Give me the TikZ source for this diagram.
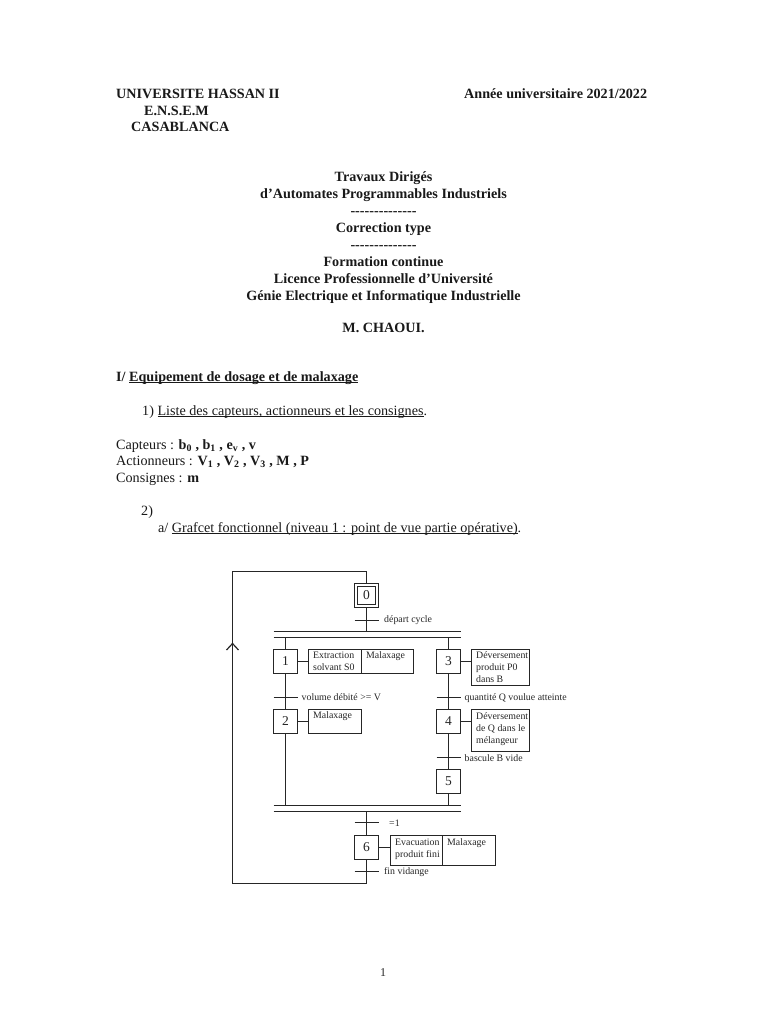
\documentclass[tikz,border=0pt]{standalone}
\usepackage{fontspec}
\setmainfont{Liberation Serif}
\newcommand{\bodyfs}{\fontsize{14.15}{16}\selectfont}
\newcommand{\smallfs}{\fontsize{9.85}{12.1}\selectfont}
\newcommand{\stepfs}{\fontsize{13.5}{15}\selectfont}
\newcommand{\ul}[1]{\setbox0\hbox{#1}\rlap{\copy0}\rule[-2pt]{\wd0}{0.8pt}}
\tikzset{
  txt/.style={anchor=base west,inner sep=0pt,font=\bodyfs,text=black!90},
  ctr/.style={anchor=base,inner sep=0pt,font=\bodyfs\bfseries,text=black!90},
  lnk/.style={line width=1.2pt,draw=black!85},
  stepbox/.style={draw=black!85,line width=1.2pt,outer sep=0pt,minimum width=24pt,minimum height=24pt,inner sep=0pt,font=\stepfs,text=black!85,text depth=0pt,anchor=center},
  actbox/.style={draw=black!85,line width=1.2pt,outer sep=0pt,inner sep=0pt,anchor=north west},
  acttxt/.style={anchor=north west,inner sep=0pt,font=\smallfs,text=black!85,align=left},
  lab/.style={anchor=base west,inner sep=0pt,font=\smallfs,text=black!85},
}
\begin{document}
\begin{tikzpicture}[x=1pt,y=-1pt]
\useasboundingbox (0,0) rectangle (768,1024);
\fill[white] (0,0) rectangle (768,1024);
% Header
\node[txt,font=\bodyfs\bfseries] (h1) at (116,99) {UNIVERSITE HASSAN II};
\node[txt,font=\bodyfs\bfseries] (h2) at (464,99) {Année universitaire 2021/2022};
\node[txt,font=\bodyfs\bfseries] (h3) at (144,116) {E.N.S.E.M};
\node[txt,font=\bodyfs\bfseries] (h4) at (131,132) {CASABLANCA};
% Title
\node[ctr] (t1) at (383.5,182) {Travaux Dirigés};
\node[ctr] (t2) at (383.5,199) {d’Automates Programmables Industriels};
\node[ctr] (t3) at (383.5,216) {-{}-{}-{}-{}-{}-{}-{}-{}-{}-{}-{}-{}-{}-};
\node[ctr] (t4) at (383.5,233) {Correction type};
\node[ctr] (t5) at (383.5,249) {-{}-{}-{}-{}-{}-{}-{}-{}-{}-{}-{}-{}-{}-};
\node[ctr] (t6) at (383.5,266) {Formation continue};
\node[ctr] (t7) at (383.5,283) {Licence Professionnelle d’Université};
\node[ctr] (t8) at (383.5,300) {Génie Electrique et Informatique Industrielle};
\node[ctr] (t9) at (383.5,332) {M. CHAOUI.};
% Section
\node[txt,font=\bodyfs\bfseries] (s0) at (116,381) {I/ \ul{Equipement de dosage et de malaxage}};
\node[txt] (s1l) at (142,415) {1) \ul{Liste des capteurs, actionneurs et les consignes}.};
\node[txt] (s2l) at (116,449) {Capteurs : \textbf{b\textsubscript{0} , b\textsubscript{1} , e\textsubscript{v} , v}};
\node[txt] (s3l) at (116,465) {Actionneurs : \textbf{V\textsubscript{1} , V\textsubscript{2} , V\textsubscript{3} , M , P}};
\node[txt] (s4l) at (116,482) {Consignes : \textbf{m}};
\node[txt] (s5l) at (141,515) {2)};
\node[txt] (s6l) at (158,532) {a/ \ul{Grafcet fonctionnel (niveau 1 : point de vue partie opérative)}.};
\node[anchor=base,inner sep=0pt,font=\fontsize{12}{14}\selectfont,text=black!85] (pg) at (383,976) {1};
% Steps
\node[stepbox] (st0) at (366.5,595.5) {0};
\node[draw=black!85,line width=1.2pt,minimum width=18pt,minimum height=18pt,outer sep=0pt,inner sep=0pt] (st0i) at (366.5,595.5) {};
\node[stepbox] (st1) at (285.5,661.5) {1};
\node[stepbox] (st2) at (285.5,721.5) {2};
\node[stepbox] (st3) at (448.5,661.5) {3};
\node[stepbox] (st4) at (448.5,721.5) {4};
\node[stepbox] (st5) at (448.5,781.5) {5};
\node[stepbox] (st6) at (366.5,847.5) {6};
% Action boxes
\node[actbox,minimum width=53pt,minimum height=24pt] (a1a) at (308.5,649.5) {};
\node[actbox,minimum width=52pt,minimum height=24pt] (a1b) at (361.5,649.5) {};
\node[actbox,minimum width=53pt,minimum height=24pt] (a2) at (308.5,709.5) {};
\node[actbox,minimum width=58pt,minimum height=36pt] (a3) at (471.5,649.5) {};
\node[actbox,minimum width=58pt,minimum height=42pt] (a4) at (471.5,709.5) {};
\node[actbox,minimum width=52pt,minimum height=30pt] (a6a) at (390.5,835.5) {};
\node[actbox,minimum width=53pt,minimum height=30pt] (a6b) at (442.5,835.5) {};
\node[acttxt] (a1at) at (313,651.5) {Extraction\\solvant S0};
\node[acttxt] (a1bt) at (366,651.5) {Malaxage};
\node[acttxt] (a2t) at (313,711) {Malaxage};
\node[acttxt] (a3t) at (476,651) {Déversement\\produit P0\\dans B};
\node[acttxt] (a4t) at (476,712) {Déversement\\de Q dans le\\mélangeur};
\node[acttxt] (a6at) at (395,838.5) {Evacuation\\produit fini};
\node[acttxt] (a6bt) at (447,838.5) {Malaxage};
% Step-action links
\draw[lnk] (st1.east) -- (st1.east -| a1a.west);
\draw[lnk] (st2.east) -- (st2.east -| a2.west);
\draw[lnk] (st3.east) -- (st3.east -| a3.west);
\draw[lnk] (st4.east) -- (st4.east -| a4.west);
\draw[lnk] (st6.east) -- (st6.east -| a6a.west);
% Double bars
\coordinate (b1l) at (273.5,631.5);
\coordinate (b1r) at (460.5,631.5);
\coordinate (b2l) at (273.5,637.5);
\coordinate (b2r) at (460.5,637.5);
\coordinate (b3l) at (273.5,805.5);
\coordinate (b3r) at (460.5,805.5);
\coordinate (b4l) at (273.5,811.5);
\coordinate (b4r) at (460.5,811.5);
\draw[lnk] (b1l) -- (b1r);
\draw[lnk] (b2l) -- (b2r);
\draw[lnk] (b3l) -- (b3r);
\draw[lnk] (b4l) -- (b4r);
% Vertical links
\coordinate (ltop) at (232.5,571.5);
\coordinate (lbot) at (232.5,883.5);
\coordinate (tr0) at (366.5,620.5);
\coordinate (tr1) at (285.5,697.5);
\coordinate (tr3) at (448.5,697.5);
\coordinate (tr4) at (448.5,757.5);
\coordinate (tr6) at (366.5,822.5);
\coordinate (tr7) at (366.5,871.5);
\draw[lnk] (st0.south) -- (st0.south |- b1l);
\draw[lnk] (st1.north |- b2l) -- (st1.north);
\draw[lnk] (st3.north |- b2l) -- (st3.north);
\draw[lnk] (st1.south) -- (st2.north);
\draw[lnk] (st3.south) -- (st4.north);
\draw[lnk] (st4.south) -- (st5.north);
\draw[lnk] (st2.south) -- (st2.south |- b3l);
\draw[lnk] (st5.south) -- (st5.south |- b3l);
\draw[lnk] (st6.north |- b4l) -- (st6.north);
\draw[lnk] (st6.south) -- (st6.south |- lbot) -- (lbot) -- (ltop) -- (st0.north |- ltop) -- (st0.north);
% Transitions
\draw[lnk] ([xshift=-12pt]tr0) -- ([xshift=12pt]tr0);
\draw[lnk] ([xshift=-12pt]tr1) -- ([xshift=12pt]tr1);
\draw[lnk] ([xshift=-12pt]tr3) -- ([xshift=12pt]tr3);
\draw[lnk] ([xshift=-12pt]tr4) -- ([xshift=12pt]tr4);
\draw[lnk] ([xshift=-12pt]tr6) -- ([xshift=12pt]tr6);
\draw[lnk] ([xshift=-12pt]tr7) -- ([xshift=12pt]tr7);
% Arrowhead
\coordinate (tip) at (232.5,643.5);
\draw[lnk] ([shift={(-6,6.5)}]tip) -- (tip) -- ([shift={(6,6.5)}]tip);
% Transition labels
\node[lab] (l0) at (384,622.5) {départ cycle};
\node[lab] (l1) at (301.5,700.5) {volume débité >= V};
\node[lab] (l3) at (464.5,700.5) {quantité Q voulue atteinte};
\node[lab] (l4) at (464.5,761) {bascule B vide};
\node[lab] (l6) at (389,826) {=1};
\node[lab] (l7) at (384,874.5) {fin vidange};
\end{tikzpicture}
\end{document}
